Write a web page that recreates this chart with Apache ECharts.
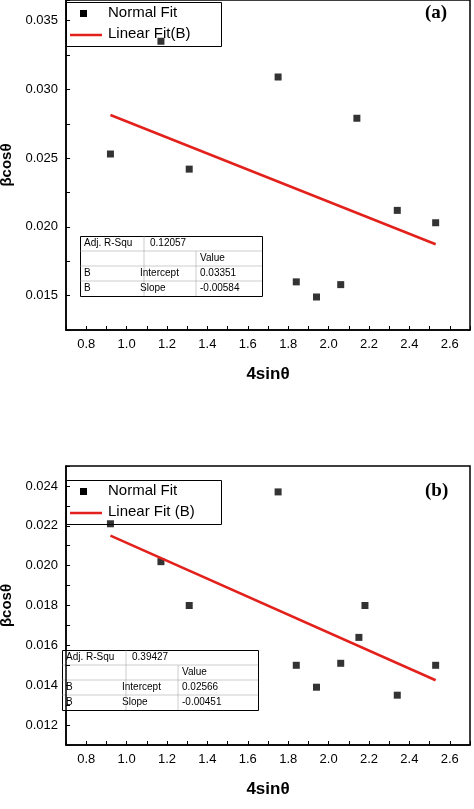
<!DOCTYPE html>
<html><head><meta charset="utf-8">
<script src="https://cdn.jsdelivr.net/npm/echarts@6/dist/echarts.min.js"></script>
<style>html,body{margin:0;padding:0;background:#fff}#c{width:474px;height:809px}</style>
</head><body><div id="c"></div>
<script>
var xA = [0.92, 1.17, 1.31, 1.75, 1.84, 1.94, 2.06, 2.14, 2.34, 2.53];
var yA = [0.0253, 0.0335, 0.0242, 0.0309, 0.0160, 0.0149, 0.0158, 0.0279, 0.0212, 0.0203];
var fitA = [0.03351, -0.00584];
var xB = [0.92, 1.17, 1.31, 1.75, 1.84, 1.94, 2.06, 2.15, 2.18, 2.34, 2.53];
var yB = [0.0221, 0.0202, 0.0180, 0.0237, 0.0150, 0.0139, 0.0151, 0.0164, 0.0180, 0.0135, 0.0150];
var fitB = [0.02566, -0.00451];
var xFit = [0.92, 2.53];

function pts(xs, ys) { return xs.map(function (x, i) { return [x, ys[i]]; }); }
function line(f) { return xFit.map(function (x) { return [x, f[0] + f[1] * x]; }); }

var chart = echarts.init(document.getElementById('c'));
var font = 'Liberation Sans';
function xAxis(i) {
  return {
    gridIndex: i, type: 'value', min: 0.7, max: 2.7, interval: 0.1,
    name: '4sinθ', nameLocation: 'middle', nameGap: 36,
    nameTextStyle: { fontSize: 17, fontWeight: 'bold', color: '#000', fontFamily: font },
    axisLine: { lineStyle: { color: '#000', width: 1.5 } },
    axisTick: { inside: true, length: 4, lineStyle: { color: '#000' } },
    axisLabel: { fontSize: 13, color: '#000', fontFamily: font,
      formatter: function (v) { var r = Math.round(v * 10); return (r % 2 === 0 && r >= 8 && r <= 26) ? (r / 10).toFixed(1) : ''; } },
    splitLine: { show: false }
  };
}
function yAxis(i, min, max, step, major, dec) {
  return {
    gridIndex: i, type: 'value', min: min, max: max, interval: step,
    name: 'βcosθ', nameLocation: 'middle', nameGap: 52,
    nameTextStyle: { fontSize: 15, fontWeight: 'bold', color: '#000', fontFamily: font },
    axisLine: { lineStyle: { color: '#000', width: 1.5 } },
    axisTick: { inside: true, length: 4, lineStyle: { color: '#000' } },
    axisLabel: { fontSize: 13, color: '#000', fontFamily: font,
      formatter: function (v) { var r = Math.round(v / step); var m = Math.round(major / step); return r % m === 0 ? v.toFixed(dec) : ''; } },
    splitLine: { show: false }
  };
}
function legend(top, label2) {
  return [
    { type: 'rect', left: 66, top: top, shape: { width: 155, height: 44 }, style: { fill: '#fff', stroke: '#000', lineWidth: 1 } },
    { type: 'rect', left: 80, top: top + 8, shape: { width: 7, height: 7 }, style: { fill: '#000' } },
    { type: 'text', left: 108, top: top + 3, style: { text: 'Normal Fit', fontSize: 15, fontFamily: font, fill: '#000' } },
    { type: 'line', shape: { x1: 70, y1: top + 33, x2: 102, y2: top + 33 }, style: { stroke: '#e3211c', lineWidth: 2.5 } },
    { type: 'text', left: 108, top: top + 24, style: { text: label2, fontSize: 15, fontFamily: font, fill: '#000' } }
  ];
}
function table(x, y, w, vals) {
  var rows = [['Adj. R-Squ', '', vals[0]], ['', '', 'Value'], ['B', 'Intercept', vals[1]], ['B', 'Slope', vals[2]]];
  var g = [{ type: 'rect', left: x, top: y, shape: { width: w, height: 60 }, style: { fill: '#fff', stroke: '#000', lineWidth: 1 } }];
  var cx = [x + 4, x + 60, x + 120];
  rows.forEach(function (r, i) {
    if (i > 0) g.push({ type: 'line', shape: { x1: x, y1: y + i * 15, x2: x + w, y2: y + i * 15 }, style: { stroke: '#999', lineWidth: 0.5 } });
    r.forEach(function (t, j) {
      var left = (i === 0 && j === 2) ? x + 70 : cx[j];
      if (t) g.push({ type: 'text', left: left, top: y + i * 15 + 2, style: { text: t, fontSize: 10, fontFamily: font, fill: '#000' } });
    });
  });
  g.push({ type: 'line', shape: { x1: x + 64, y1: y, x2: x + 64, y2: y + 60 }, style: { stroke: '#999', lineWidth: 0.5 } });
  g.push({ type: 'line', shape: { x1: x + 116, y1: y + 15, x2: x + 116, y2: y + 60 }, style: { stroke: '#999', lineWidth: 0.5 } });
  return g;
}

var graphics = [].concat(
  legend(2, 'Linear Fit(B)'), legend(480, 'Linear Fit (B)'),
  table(80, 236, 182, ['0.12057', '0.03351', '-0.00584']),
  table(62, 650, 196, ['0.39427', '0.02566', '-0.00451']),
  [{ type: 'text', left: 425, top: 4, style: { text: '(a)', fontSize: 19, fontWeight: 'bold', fontFamily: 'Liberation Serif', fill: '#000' } },
   { type: 'text', left: 425, top: 482, style: { text: '(b)', fontSize: 19, fontWeight: 'bold', fontFamily: 'Liberation Serif', fill: '#000' } }]
);

chart.setOption({
  animation: false,
  grid: [
    { left: 66, top: 0, width: 404, height: 330, outerBoundsMode: 'none', containLabel: false, show: true, borderColor: '#000', borderWidth: 1.5, backgroundColor: 'transparent' },
    { left: 66, top: 466, width: 404, height: 279, outerBoundsMode: 'none', containLabel: false, show: true, borderColor: '#000', borderWidth: 1.5, backgroundColor: 'transparent' }
  ],
  xAxis: [xAxis(0), xAxis(1)],
  yAxis: [yAxis(0, 0.0125, 0.0365, 0.0025, 0.005, 3), yAxis(1, 0.011, 0.025, 0.001, 0.002, 3)],
  series: [
    { type: 'scatter', xAxisIndex: 0, yAxisIndex: 0, symbol: 'rect', symbolSize: 7, itemStyle: { color: '#000' }, data: pts(xA, yA) },
    { type: 'line', xAxisIndex: 0, yAxisIndex: 0, showSymbol: false, lineStyle: { color: '#e3211c', width: 2.5 }, data: line(fitA) },
    { type: 'scatter', xAxisIndex: 1, yAxisIndex: 1, symbol: 'rect', symbolSize: 7, itemStyle: { color: '#000' }, data: pts(xB, yB) },
    { type: 'line', xAxisIndex: 1, yAxisIndex: 1, showSymbol: false, lineStyle: { color: '#e3211c', width: 2.5 }, data: line(fitB) }
  ],
  graphic: graphics
});
</script></body></html>
